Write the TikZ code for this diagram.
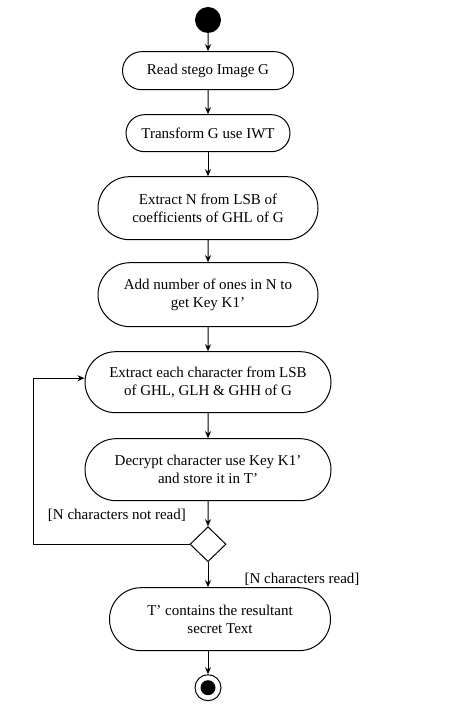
\documentclass[tikz,border=0pt]{standalone}
\usepackage{fontspec}
\setmainfont{Liberation Serif}
\usetikzlibrary{shapes.misc, shapes.geometric, arrows.meta, positioning}

\begin{document}
\begin{tikzpicture}[
            x=1pt, y=1pt,
            node distance=24pt,
            activity/.style={rounded rectangle, draw, line width=1pt, align=center, inner sep=2pt, font=\fontsize{15}{18}\selectfont},
            guard/.style={inner sep=0pt, font=\fontsize{15}{17}\selectfont},
            arrow/.style={line width=1pt, -{Stealth[length=7pt, width=6pt]}}
        ]
            \useasboundingbox (0,0) rectangle (474,-708);
            \node[circle, fill, minimum size=26pt, inner sep=0pt] (start) at (208,-20) {};
            \node[activity, minimum width=175pt, minimum height=38pt, below=18pt of start] (read) {Read stego Image G};
            \node[activity, minimum width=168pt, minimum height=37pt, below=of read] (iwt) {Transform G use IWT};
            \node[activity, minimum width=224pt, minimum height=63pt, below=of iwt] (getn) {Extract N from LSB of\\coefficients of GHL of G};
            \node[activity, minimum width=224pt, minimum height=64pt, below=22pt of getn] (key) {Add number of ones in N to\\get Key K1’};
            \node[activity, minimum width=250pt, minimum height=61pt, below=of key] (extract) {Extract each character from LSB\\of GHL, GLH \& GHH of G};
            \node[activity, minimum width=250pt, minimum height=62pt, below=25pt of extract] (decrypt) {Decrypt character use Key K1’\\and store it in T’};
            \node[diamond, draw, line width=1pt, minimum width=36pt, minimum height=35pt, inner sep=0pt, below=25pt of decrypt] (check) {};
            \node[activity, minimum width=225pt, minimum height=63pt, below=25pt of check, xshift=12pt] (result) {T’ contains the resultant\\secret Text};
            \node[circle, draw, line width=1pt, minimum size=26pt, inner sep=0pt, below=23pt of result, xshift=-12pt,
                  path picture={\fill (path picture bounding box.center) circle (7.5pt);}] (stop) {};

            \coordinate (loop) at (33,0);
            \node[guard, anchor=south east] (notread) at (186,-522) {[N characters not read]};
            \node[guard] (isread) at (302,-579) {[N characters read]};

            \draw[arrow] (start) -- (read);
            \draw[arrow] (read) -- (iwt);
            \draw[arrow] (iwt) -- (getn);
            \draw[arrow] (getn) -- (key);
            \draw[arrow] (key) -- (extract);
            \draw[arrow] (extract) -- (decrypt);
            \draw[arrow] (decrypt) -- (check);
            \draw[arrow] (check) -- (check |- result.north);
            \draw[arrow] (check.west) -- (check.west -| loop) |- ([yshift=4pt]extract.west);
            \draw[arrow] (result.south -| stop) -- (stop);
        \end{tikzpicture}
\end{document}
